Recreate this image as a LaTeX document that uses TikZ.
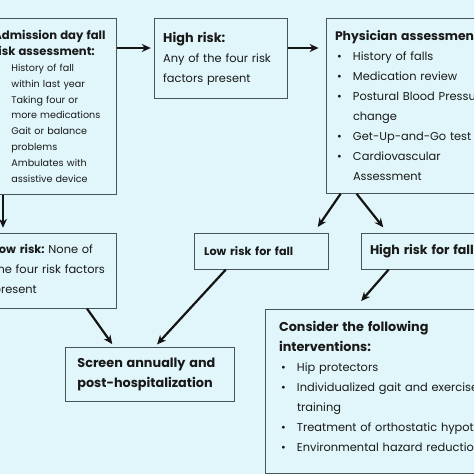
\documentclass[tikz,border=0pt]{standalone}
\usepackage{fontspec}
\setmainfont{Poppins}
\usepackage{tikz}
\usetikzlibrary{arrows.meta, positioning}
\usepackage{xcolor}
\definecolor{fallbg}{RGB}{224,246,250}
\definecolor{fallline}{RGB}{70,85,90}
\definecolor{fallarrow}{RGB}{20,20,20}
\definecolor{falltext}{RGB}{25,25,25}

\newcommand{\itm}{\hspace*{2pt}\makebox[16pt][l]{\textbullet}}
\newcommand{\cnt}{\hspace*{18pt}}
\newcommand{\hd}[2][12.8]{\mbox{\fontsize{#1}{20}\selectfont\bfseries #2}}
\newcommand{\lift}[1]{\rule[-#1]{0pt}{#1}}
\newcommand{\fallfont}{\fontsize{11.4}{20}\selectfont\lineskiplimit-20pt\relax}
\newcommand{\fallsmall}{\fontsize{9.6}{15.8}\selectfont\lineskiplimit-20pt\relax}

\begin{document}
\begin{tikzpicture}[
    x=1pt, y=1pt,
    box/.style={rectangle, draw=fallline, fill=fallbg, line width=0.8pt, align=left,
                inner xsep=9pt, inner ysep=2pt, text=falltext, font=\fallfont},
    smallbox/.style={box, font=\fallsmall},
    arrow/.style={-{Stealth[length=9pt, width=8pt]}, line width=2.2pt, fallarrow},
]
    \useasboundingbox (0,0) rectangle (474,474);
    \fill[fallbg] (0,0) rectangle (474,474);
    \clip (0,0) rectangle (474,474);

    % Top row
    \node[smallbox, anchor=north west, text width=114pt, minimum height=176pt] (admit) at (-16,456)
        {\hd[11.6]{Admission day fall}\\\hd[11.6]{risk assessment:}\\
         \itm History of fall\\\cnt within last year\\
         \itm Taking four or\\\cnt \mbox{more medications}\\
         \itm Gait or balance\\\cnt problems\\
         \itm Ambulates with\\\cnt assistive device};
    \node[box, right=37pt of admit.north east, anchor=north west, text width=115pt, minimum height=80pt] (high)
        {\hd{High risk:}\\Any of the four risk\\factors present};
    \node[box, right=38pt of high.north east, anchor=north west, text width=200pt, minimum height=175pt] (phys)
        {\hd[12.4]{Physician assessment}\\
         \itm History of falls\\
         \itm Medication review\\
         \itm Postural Blood Pressure\\\cnt change\\
         \itm Get-Up-and-Go test\\
         \itm Cardiovascular\\\cnt Assessment};

    % Middle row
    \node[box, below=38pt of admit.south west, anchor=north west, text width=114pt, minimum height=75pt] (lowrisk)
        {\hd[11.4]{Low risk:} None of\\the four risk factors\\present};
    \node[box, right=77pt of lowrisk.north east, anchor=north west, inner xsep=10pt,
          text width=114pt, minimum height=36pt] (lowfall)
        {\hd[11.2]{Low risk for fall}};
    \node[box, right=32pt of lowfall.north east, anchor=north west, text width=160pt, minimum height=36pt] (highfall)
        {\hd[12.6]{High risk for fall}};

    % Bottom row
    \node[box, below right=38pt and 81pt of lowrisk.south west, anchor=north west, inner xsep=12pt,
          text width=145pt, minimum height=54pt] (screen)
        {\hd{Screen annually and}\\\hd{post-hospitalization}};
    \node[box, below left=39pt and 96pt of highfall.south west, anchor=north west, inner xsep=14pt,
          text width=240pt, minimum height=164pt] (consider)
        {\hd{Consider the following}\\\hd{interventions:}\\
         \itm Hip protectors\\
         \itm Individualized gait and exercise\\\cnt training\\
         \itm Treatment of orthostatic hypotension\\
         \itm Environmental hazard reduction\lift{10pt}};

    % Arrows
    \draw[arrow, shorten >=3pt] ([yshift=-30pt]admit.north east) -- ([yshift=-30pt]high.north west);
    \draw[arrow, shorten >=7pt] ([yshift=-30pt]high.north east) -- ([yshift=-30pt]phys.north west);
    \draw[arrow, shorten >=5pt] ([xshift=19pt]admit.south west) -- ([xshift=19pt]lowrisk.north west);
    \draw[arrow, shorten >=7pt] ([xshift=15pt]phys.south west) -- ([xshift=120pt]lowfall.north west);
    \draw[arrow, shorten >=7pt] ([xshift=31pt]phys.south west) -- ([xshift=27pt]highfall.north west);
    \draw[arrow, shorten >=3pt] ([xshift=103pt]lowrisk.south west) -- ([xshift=49pt]screen.north west);
    \draw[arrow, shorten >=3pt] ([xshift=32pt]lowfall.south west) -- ([xshift=90pt]screen.north west);
    \draw[arrow, shorten >=10pt] ([xshift=28pt]highfall.south west) -- ([xshift=90pt]consider.north west);
\end{tikzpicture}
\end{document}
